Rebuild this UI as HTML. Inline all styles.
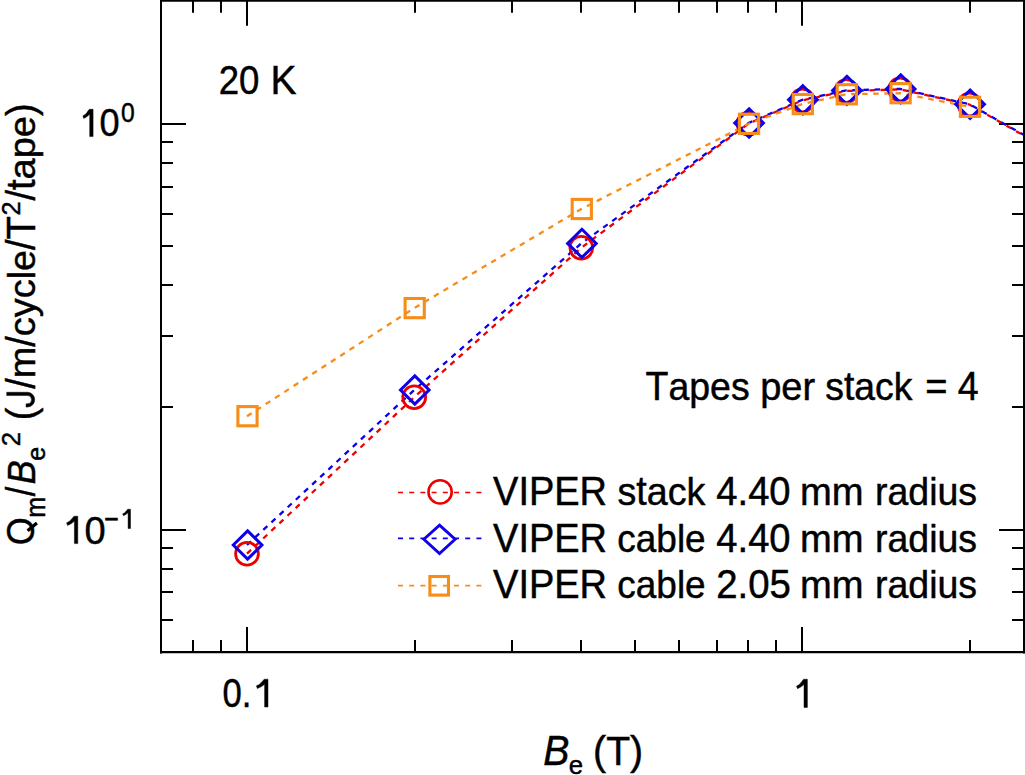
<!DOCTYPE html>
<html><head><meta charset="utf-8"><style>
html,body{margin:0;padding:0;background:#fff;}
body{width:1025px;height:775px;overflow:hidden;}
svg{display:block;}
text{font-family:"Liberation Sans",sans-serif;fill:#000;font-kerning:none;stroke:#000;stroke-width:0.45px;}
</style></head><body>
<svg width="1025" height="775" viewBox="0 0 1025 775">
<rect x="0" y="0" width="1025" height="775" fill="#fff"/>
<defs><clipPath id="pc"><rect x="162" y="1.5" width="861" height="649.5"/></clipPath></defs>
<g stroke="#000" fill="none">
<line x1="161" y1="652" x2="161" y2="640" stroke-width="2"/>
<line x1="161" y1="0" x2="161" y2="12.8" stroke-width="2"/>
<line x1="193" y1="652" x2="193" y2="640" stroke-width="2"/>
<line x1="193" y1="0" x2="193" y2="12.8" stroke-width="2"/>
<line x1="221" y1="652" x2="221" y2="640" stroke-width="2"/>
<line x1="221" y1="0" x2="221" y2="12.8" stroke-width="2"/>
<line x1="247" y1="652" x2="247" y2="627" stroke-width="2"/>
<line x1="247" y1="0" x2="247" y2="25.8" stroke-width="2"/>
<line x1="415" y1="652" x2="415" y2="640" stroke-width="2"/>
<line x1="415" y1="0" x2="415" y2="12.8" stroke-width="2"/>
<line x1="512" y1="652" x2="512" y2="640" stroke-width="2"/>
<line x1="512" y1="0" x2="512" y2="12.8" stroke-width="2"/>
<line x1="581" y1="652" x2="581" y2="640" stroke-width="2"/>
<line x1="581" y1="0" x2="581" y2="12.8" stroke-width="2"/>
<line x1="635" y1="652" x2="635" y2="640" stroke-width="2"/>
<line x1="635" y1="0" x2="635" y2="12.8" stroke-width="2"/>
<line x1="679" y1="652" x2="679" y2="640" stroke-width="2"/>
<line x1="679" y1="0" x2="679" y2="12.8" stroke-width="2"/>
<line x1="717" y1="652" x2="717" y2="640" stroke-width="2"/>
<line x1="717" y1="0" x2="717" y2="12.8" stroke-width="2"/>
<line x1="748" y1="652" x2="748" y2="640" stroke-width="2"/>
<line x1="748" y1="0" x2="748" y2="12.8" stroke-width="2"/>
<line x1="776" y1="652" x2="776" y2="640" stroke-width="2"/>
<line x1="776" y1="0" x2="776" y2="12.8" stroke-width="2"/>
<line x1="802" y1="652" x2="802" y2="627" stroke-width="2"/>
<line x1="802" y1="0" x2="802" y2="25.8" stroke-width="2"/>
<line x1="970" y1="652" x2="970" y2="640" stroke-width="2"/>
<line x1="970" y1="0" x2="970" y2="12.8" stroke-width="2"/>
<line x1="161" y1="620" x2="173" y2="620" stroke-width="2"/>
<line x1="1024" y1="620" x2="1012" y2="620" stroke-width="2"/>
<line x1="161" y1="592" x2="173" y2="592" stroke-width="2"/>
<line x1="1024" y1="592" x2="1012" y2="592" stroke-width="2"/>
<line x1="161" y1="569" x2="173" y2="569" stroke-width="2"/>
<line x1="1024" y1="569" x2="1012" y2="569" stroke-width="2"/>
<line x1="161" y1="548" x2="173" y2="548" stroke-width="2"/>
<line x1="1024" y1="548" x2="1012" y2="548" stroke-width="2"/>
<line x1="161" y1="530" x2="186" y2="530" stroke-width="2"/>
<line x1="1024" y1="530" x2="999" y2="530" stroke-width="2"/>
<line x1="161" y1="407" x2="173" y2="407" stroke-width="2"/>
<line x1="1024" y1="407" x2="1012" y2="407" stroke-width="2"/>
<line x1="161" y1="336" x2="173" y2="336" stroke-width="2"/>
<line x1="1024" y1="336" x2="1012" y2="336" stroke-width="2"/>
<line x1="161" y1="285" x2="173" y2="285" stroke-width="2"/>
<line x1="1024" y1="285" x2="1012" y2="285" stroke-width="2"/>
<line x1="161" y1="246" x2="173" y2="246" stroke-width="2"/>
<line x1="1024" y1="246" x2="1012" y2="246" stroke-width="2"/>
<line x1="161" y1="214" x2="173" y2="214" stroke-width="2"/>
<line x1="1024" y1="214" x2="1012" y2="214" stroke-width="2"/>
<line x1="161" y1="187" x2="173" y2="187" stroke-width="2"/>
<line x1="1024" y1="187" x2="1012" y2="187" stroke-width="2"/>
<line x1="161" y1="163" x2="173" y2="163" stroke-width="2"/>
<line x1="1024" y1="163" x2="1012" y2="163" stroke-width="2"/>
<line x1="161" y1="142" x2="173" y2="142" stroke-width="2"/>
<line x1="1024" y1="142" x2="1012" y2="142" stroke-width="2"/>
<line x1="161" y1="124" x2="186" y2="124" stroke-width="2"/>
<line x1="1024" y1="124" x2="999" y2="124" stroke-width="2"/>
</g>
<g clip-path="url(#pc)">
<polyline points="247.0,553.7 414.2,397.2 581.3,247.7 748.5,123.6 802.3,100.4 846.3,91.0 900.1,89.4 969.5,104.6 1067.2,160.3" fill="none" stroke="#EE0000" stroke-width="2.3" stroke-dasharray="5.5 5.6" stroke-linecap="butt"/>
<polyline points="247.0,545.0 414.2,390.0 581.3,243.4 748.5,123.0 802.3,99.8 846.3,90.4 900.1,88.9 969.5,104.2 1067.2,159.5" fill="none" stroke="#1000E8" stroke-width="2.3" stroke-dasharray="5.5 5.6" stroke-linecap="butt"/>
<polyline points="247.0,416.2 414.2,308.1 581.3,209.0 748.5,123.8 802.3,104.1 846.3,94.3 900.1,93.2 969.5,106.8" fill="none" stroke="#F78D19" stroke-width="2.3" stroke-dasharray="5.5 5.6" stroke-linecap="butt"/>
<circle cx="247.0" cy="553.7" r="11.4" fill="none" stroke="#EE0000" stroke-width="2.8"/>
<circle cx="414.2" cy="397.2" r="11.4" fill="none" stroke="#EE0000" stroke-width="2.8"/>
<circle cx="581.3" cy="247.7" r="11.4" fill="none" stroke="#EE0000" stroke-width="2.8"/>
<circle cx="748.5" cy="123.6" r="11.4" fill="none" stroke="#EE0000" stroke-width="2.8"/>
<circle cx="802.3" cy="100.4" r="11.4" fill="none" stroke="#EE0000" stroke-width="2.8"/>
<circle cx="846.3" cy="91.0" r="11.4" fill="none" stroke="#EE0000" stroke-width="2.8"/>
<circle cx="900.1" cy="89.4" r="11.4" fill="none" stroke="#EE0000" stroke-width="2.8"/>
<circle cx="969.5" cy="104.6" r="11.4" fill="none" stroke="#EE0000" stroke-width="2.8"/>
<path d="M247.6 530.9L261.9 545.0L247.6 559.1L233.3 545.0Z" fill="none" stroke="#1000E8" stroke-width="3.0" stroke-linejoin="miter"/>
<path d="M414.8 375.9L429.1 390.0L414.8 404.1L400.5 390.0Z" fill="none" stroke="#1000E8" stroke-width="3.0" stroke-linejoin="miter"/>
<path d="M581.9 229.3L596.2 243.4L581.9 257.5L567.6 243.4Z" fill="none" stroke="#1000E8" stroke-width="3.0" stroke-linejoin="miter"/>
<path d="M749.1 108.9L763.4 123.0L749.1 137.1L734.8 123.0Z" fill="none" stroke="#1000E8" stroke-width="3.0" stroke-linejoin="miter"/>
<path d="M802.9 85.7L817.2 99.8L802.9 113.9L788.6 99.8Z" fill="none" stroke="#1000E8" stroke-width="3.0" stroke-linejoin="miter"/>
<path d="M846.9 76.3L861.2 90.4L846.9 104.5L832.6 90.4Z" fill="none" stroke="#1000E8" stroke-width="3.0" stroke-linejoin="miter"/>
<path d="M900.7 74.8L915.0 88.9L900.7 103.0L886.4 88.9Z" fill="none" stroke="#1000E8" stroke-width="3.0" stroke-linejoin="miter"/>
<path d="M970.1 90.1L984.4 104.2L970.1 118.3L955.8 104.2Z" fill="none" stroke="#1000E8" stroke-width="3.0" stroke-linejoin="miter"/>
<rect x="237.9" y="406.6" width="19.2" height="19.2" fill="none" stroke="#F78D19" stroke-width="3.1"/>
<rect x="405.1" y="298.5" width="19.2" height="19.2" fill="none" stroke="#F78D19" stroke-width="3.1"/>
<rect x="572.2" y="199.4" width="19.2" height="19.2" fill="none" stroke="#F78D19" stroke-width="3.1"/>
<rect x="739.4" y="114.2" width="19.2" height="19.2" fill="none" stroke="#F78D19" stroke-width="3.1"/>
<rect x="793.2" y="94.5" width="19.2" height="19.2" fill="none" stroke="#F78D19" stroke-width="3.1"/>
<rect x="837.2" y="84.7" width="19.2" height="19.2" fill="none" stroke="#F78D19" stroke-width="3.1"/>
<rect x="891.0" y="83.6" width="19.2" height="19.2" fill="none" stroke="#F78D19" stroke-width="3.1"/>
<rect x="960.4" y="97.2" width="19.2" height="19.2" fill="none" stroke="#F78D19" stroke-width="3.1"/>
</g>
<g stroke="#000" fill="none">
<line x1="161" y1="0" x2="161" y2="653.5" stroke-width="2"/>
<line x1="1024" y1="0" x2="1024" y2="653.5" stroke-width="2"/>
<line x1="160" y1="0.9" x2="1025" y2="0.9" stroke-width="1.8"/>
<line x1="160" y1="652.2" x2="1025" y2="652.2" stroke-width="2.2"/>
</g>
<line x1="398" y1="492.5" x2="483" y2="492.5" stroke="#EE0000" stroke-width="1.7" stroke-dasharray="5 6.2"/>
<circle cx="440.1" cy="491.9" r="11.6" fill="none" stroke="#EE0000" stroke-width="2.6"/>
<line x1="398" y1="538.4" x2="483" y2="538.4" stroke="#1000E8" stroke-width="1.7" stroke-dasharray="5 6.2"/>
<path d="M439.5 525.1L455.1 539.3L439.5 553.5L423.9 539.3Z" fill="none" stroke="#1000E8" stroke-width="2.9" stroke-linejoin="miter"/>
<line x1="398" y1="585.7" x2="483" y2="585.7" stroke="#F78D19" stroke-width="1.7" stroke-dasharray="5 6.2"/>
<rect x="429.9" y="576.5" width="18.6" height="18.6" fill="none" stroke="#F78D19" stroke-width="3.1"/>
<text transform="matrix(1.0133 0 0 1.0930 493.03 504.90)" font-size="37.5">V</text>
<text transform="matrix(1.0133 0 0 1.0930 518.38 504.90)" font-size="37.5">I</text>
<text transform="matrix(1.0133 0 0 1.0930 528.93 504.90)" font-size="37.5">P</text>
<text transform="matrix(1.0133 0 0 1.0930 554.28 504.90)" font-size="37.5">E</text>
<text transform="matrix(1.0133 0 0 1.0930 579.62 504.90)" font-size="37.5">R</text>
<text transform="matrix(1.0042 0 0 1.0311 617.45 504.90)" font-size="37.5">s</text>
<text transform="matrix(1.0042 0 0 1.0930 636.28 504.90)" font-size="37.5">t</text>
<text transform="matrix(1.0042 0 0 1.0311 646.74 504.90)" font-size="37.5">a</text>
<text transform="matrix(1.0042 0 0 1.0311 667.69 504.90)" font-size="37.5">c</text>
<text transform="matrix(1.0042 0 0 1.0378 686.52 504.90)" font-size="37.5">k</text>
<text transform="matrix(1.0175 0 0 1.0930 716.32 504.90)" font-size="37.5">4</text>
<text transform="matrix(1.0175 0 0 1.0930 737.55 504.90)" font-size="37.5">.</text>
<text transform="matrix(1.0175 0 0 1.0930 748.15 504.90)" font-size="37.5">4</text>
<text transform="matrix(1.0175 0 0 1.0930 769.37 504.90)" font-size="37.5">0</text>
<text transform="matrix(1.0172 0 0 1.0311 799.97 504.90)" font-size="37.5">m</text>
<text transform="matrix(1.0172 0 0 1.0311 831.74 504.90)" font-size="37.5">m</text>
<text transform="matrix(0.9991 0 0 1.0311 875.01 504.90)" font-size="37.5">r</text>
<text transform="matrix(0.9991 0 0 1.0311 887.49 504.90)" font-size="37.5">a</text>
<text transform="matrix(0.9991 0 0 1.0378 908.32 504.90)" font-size="37.5">d</text>
<text transform="matrix(0.9991 0 0 1.0378 929.16 504.90)" font-size="37.5">i</text>
<text transform="matrix(0.9991 0 0 1.0311 937.48 504.90)" font-size="37.5">u</text>
<text transform="matrix(0.9991 0 0 1.0311 958.32 504.90)" font-size="37.5">s</text>
<text transform="matrix(1.0133 0 0 1.0853 493.03 552.10)" font-size="37.5">V</text>
<text transform="matrix(1.0133 0 0 1.0853 518.38 552.10)" font-size="37.5">I</text>
<text transform="matrix(1.0133 0 0 1.0853 528.93 552.10)" font-size="37.5">P</text>
<text transform="matrix(1.0133 0 0 1.0853 554.28 552.10)" font-size="37.5">E</text>
<text transform="matrix(1.0133 0 0 1.0853 579.62 552.10)" font-size="37.5">R</text>
<text transform="matrix(0.9851 0 0 1.0238 617.33 552.10)" font-size="37.5">c</text>
<text transform="matrix(0.9851 0 0 1.0238 635.80 552.10)" font-size="37.5">a</text>
<text transform="matrix(0.9851 0 0 1.0304 656.35 552.10)" font-size="37.5">b</text>
<text transform="matrix(0.9851 0 0 1.0304 676.89 552.10)" font-size="37.5">l</text>
<text transform="matrix(0.9851 0 0 1.0238 685.10 552.10)" font-size="37.5">e</text>
<text transform="matrix(1.0175 0 0 1.0853 716.32 552.10)" font-size="37.5">4</text>
<text transform="matrix(1.0175 0 0 1.0853 737.55 552.10)" font-size="37.5">.</text>
<text transform="matrix(1.0175 0 0 1.0853 748.15 552.10)" font-size="37.5">4</text>
<text transform="matrix(1.0175 0 0 1.0853 769.37 552.10)" font-size="37.5">0</text>
<text transform="matrix(1.0172 0 0 1.0238 799.97 552.10)" font-size="37.5">m</text>
<text transform="matrix(1.0172 0 0 1.0238 831.74 552.10)" font-size="37.5">m</text>
<text transform="matrix(0.9991 0 0 1.0238 875.01 552.10)" font-size="37.5">r</text>
<text transform="matrix(0.9991 0 0 1.0238 887.49 552.10)" font-size="37.5">a</text>
<text transform="matrix(0.9991 0 0 1.0304 908.32 552.10)" font-size="37.5">d</text>
<text transform="matrix(0.9991 0 0 1.0304 929.16 552.10)" font-size="37.5">i</text>
<text transform="matrix(0.9991 0 0 1.0238 937.48 552.10)" font-size="37.5">u</text>
<text transform="matrix(0.9991 0 0 1.0238 958.32 552.10)" font-size="37.5">s</text>
<text transform="matrix(1.0133 0 0 1.1008 493.03 598.20)" font-size="37.5">V</text>
<text transform="matrix(1.0133 0 0 1.1008 518.38 598.20)" font-size="37.5">I</text>
<text transform="matrix(1.0133 0 0 1.1008 528.93 598.20)" font-size="37.5">P</text>
<text transform="matrix(1.0133 0 0 1.1008 554.28 598.20)" font-size="37.5">E</text>
<text transform="matrix(1.0133 0 0 1.1008 579.62 598.20)" font-size="37.5">R</text>
<text transform="matrix(0.9851 0 0 1.0384 617.33 598.20)" font-size="37.5">c</text>
<text transform="matrix(0.9851 0 0 1.0384 635.80 598.20)" font-size="37.5">a</text>
<text transform="matrix(0.9851 0 0 1.0452 656.35 598.20)" font-size="37.5">b</text>
<text transform="matrix(0.9851 0 0 1.0452 676.89 598.20)" font-size="37.5">l</text>
<text transform="matrix(0.9851 0 0 1.0384 685.10 598.20)" font-size="37.5">e</text>
<text transform="matrix(1.0227 0 0 1.1008 716.27 598.20)" font-size="37.5">2</text>
<text transform="matrix(1.0227 0 0 1.1008 737.60 598.20)" font-size="37.5">.</text>
<text transform="matrix(1.0227 0 0 1.1008 748.25 598.20)" font-size="37.5">0</text>
<text transform="matrix(1.0227 0 0 1.1008 769.58 598.20)" font-size="37.5">5</text>
<text transform="matrix(1.0172 0 0 1.0384 799.97 598.20)" font-size="37.5">m</text>
<text transform="matrix(1.0172 0 0 1.0384 831.74 598.20)" font-size="37.5">m</text>
<text transform="matrix(0.9991 0 0 1.0384 875.01 598.20)" font-size="37.5">r</text>
<text transform="matrix(0.9991 0 0 1.0384 887.49 598.20)" font-size="37.5">a</text>
<text transform="matrix(0.9991 0 0 1.0452 908.32 598.20)" font-size="37.5">d</text>
<text transform="matrix(0.9991 0 0 1.0452 929.16 598.20)" font-size="37.5">i</text>
<text transform="matrix(0.9991 0 0 1.0384 937.48 598.20)" font-size="37.5">u</text>
<text transform="matrix(0.9991 0 0 1.0384 958.32 598.20)" font-size="37.5">s</text>
<text transform="matrix(0.9988 0 0 1.0930 645.56 400.20)" font-size="37.5">T</text>
<text transform="matrix(0.9988 0 0 1.0311 668.44 400.20)" font-size="37.5">a</text>
<text transform="matrix(0.9988 0 0 1.0311 689.27 400.20)" font-size="37.5">p</text>
<text transform="matrix(0.9988 0 0 1.0311 710.10 400.20)" font-size="37.5">e</text>
<text transform="matrix(0.9988 0 0 1.0311 730.93 400.20)" font-size="37.5">s</text>
<text transform="matrix(1.0145 0 0 1.0311 760.15 400.20)" font-size="37.5">p</text>
<text transform="matrix(1.0145 0 0 1.0311 781.31 400.20)" font-size="37.5">e</text>
<text transform="matrix(1.0145 0 0 1.0311 802.46 400.20)" font-size="37.5">r</text>
<text transform="matrix(0.9961 0 0 1.0311 825.26 400.20)" font-size="37.5">s</text>
<text transform="matrix(0.9961 0 0 1.0930 843.94 400.20)" font-size="37.5">t</text>
<text transform="matrix(0.9961 0 0 1.0311 854.32 400.20)" font-size="37.5">a</text>
<text transform="matrix(0.9961 0 0 1.0311 875.09 400.20)" font-size="37.5">c</text>
<text transform="matrix(0.9961 0 0 1.0378 893.77 400.20)" font-size="37.5">k</text>
<text transform="matrix(1.0154 0 0 1.0930 925.14 400.20)" font-size="37.5">=</text>
<text transform="matrix(1.0002 0 0 1.0930 957.64 400.20)" font-size="37.5">4</text>
<text transform="matrix(0.9387 0 0 1.0398 218.76 94.10)" font-size="39">2</text>
<text transform="matrix(0.9387 0 0 1.0398 239.12 94.10)" font-size="39">0</text>
<text transform="matrix(1.0011 0 0 1.0398 270.40 94.10)" font-size="39">K</text>
<text transform="matrix(0.8892 0 0 1.0398 222.55 707.10)" font-size="39">0</text>
<text transform="matrix(0.8892 0 0 1.0398 241.83 707.10)" font-size="39">.</text>
<path d="M264.20 679.20 L268.00 679.20 L268.00 707.00 L264.60 707.00 L264.60 684.34 C261.70 686.71 259.30 687.82 257.33 688.51 L256.40 685.87 C260.46 684.48 261.70 681.70 264.20 679.20 Z" fill="#000" stroke="#000" stroke-width="0.45"/>
<path d="M803.60 679.20 L807.40 679.20 L807.40 707.40 L804.00 707.40 L804.00 684.42 C801.30 686.81 799.30 687.94 797.46 688.65 L796.60 685.97 C800.38 684.56 801.30 681.74 803.60 679.20 Z" fill="#000" stroke="#000" stroke-width="0.45"/>
<path d="M89.30 109.30 L93.10 109.30 L93.10 136.60 L89.70 136.60 L89.70 114.35 C87.15 116.67 85.45 117.76 83.72 118.45 L82.90 115.85 C86.47 114.49 87.15 111.76 89.30 109.30 Z" fill="#000" stroke="#000" stroke-width="0.45"/>
<text transform="matrix(0.9280 0 0 1.0032 99.59 136.42)" font-size="39">0</text>
<text transform="matrix(0.9494 0 0 1.0484 120.94 122.03)" font-size="26">0</text>
<path d="M74.00 516.20 L77.80 516.20 L77.80 543.60 L74.40 543.60 L74.40 521.27 C71.60 523.60 69.40 524.69 67.50 525.38 L66.60 522.78 C70.52 521.41 71.60 518.67 74.00 516.20 Z" fill="#000" stroke="#000" stroke-width="0.45"/>
<text transform="matrix(0.9762 0 0 1.0177 84.41 543.61)" font-size="39">0</text>
<text transform="matrix(0.9658 0 0 1.2409 104.26 530.48)" font-size="26">−</text>
<path d="M127.70 509.20 L130.50 509.20 L130.50 528.50 L128.10 528.50 L128.10 512.77 C126.15 514.41 124.65 515.18 123.32 515.67 L122.70 513.83 C125.43 512.87 126.15 510.94 127.70 509.20 Z" fill="#000" stroke="#000" stroke-width="0.45"/>
<text transform="matrix(1.0051 0 0 1.0734 543.19 764.70)" font-size="39" font-style="italic">B</text>
<text transform="matrix(0.9918 0 0 1.0180 568.80 774.44)" font-size="26">e</text>
<text transform="matrix(1.0053 0 0 1.0510 593.07 764.70)" font-size="39">(</text>
<text transform="matrix(1.0053 0 0 1.0510 606.13 764.70)" font-size="39">T</text>
<text transform="matrix(1.0053 0 0 1.0510 630.07 764.70)" font-size="39">)</text>
<text transform="matrix(0 -0.9484 1.0184 0 34.12 545.31)" font-size="38">O</text>
<line x1="27.6" y1="530.8" x2="36.9" y2="522.9" stroke="#000" stroke-width="3.3"/>
<text transform="matrix(0 -0.9661 1.0483 0 45.10 517.77)" font-size="26">m</text>
<text transform="matrix(0 -0.8904 1.0519 0 34.70 496.20)" font-size="38">/</text>
<text transform="matrix(0 -0.9441 1.0442 0 34.70 484.30)" font-size="38" font-style="italic">B</text>
<text transform="matrix(0 -0.9672 0.9829 0 44.85 460.87)" font-size="26">e</text>
<text transform="matrix(0 -0.9962 0.9970 0 19.90 446.30)" font-size="26">2</text>
<text transform="matrix(0 -0.9963 1.0519 0 34.70 420.25)" font-size="38">(</text>
<text transform="matrix(0 -0.9963 1.0519 0 34.70 388.71)" font-size="38">/</text>
<text transform="matrix(0 -0.9963 0.9923 0 34.70 378.19)" font-size="38">m</text>
<text transform="matrix(0 -0.9963 1.0519 0 34.70 346.65)" font-size="38">/</text>
<text transform="matrix(0 -0.9963 0.9923 0 34.70 336.13)" font-size="38">c</text>
<text transform="matrix(0 -0.9963 0.9923 0 34.70 317.20)" font-size="38">y</text>
<text transform="matrix(0 -0.9963 0.9923 0 34.70 298.27)" font-size="38">c</text>
<text transform="matrix(0 -0.9963 0.9987 0 34.70 279.34)" font-size="38">l</text>
<text transform="matrix(0 -0.9963 0.9923 0 34.70 270.93)" font-size="38">e</text>
<text transform="matrix(0 -0.9963 1.0519 0 34.70 249.88)" font-size="38">/</text>
<text transform="matrix(0 -0.9963 1.0519 0 34.70 239.36)" font-size="38">T</text>
<path d="M-395.55 6.70 L-392.25 6.70 L-392.25 27.57 A7.43 7.43 0 0 1 -407.10 27.57 L-407.10 26.07 L-403.80 26.07 L-403.80 27.57 A4.13 4.13 0 0 0 -395.55 27.57 Z" transform="matrix(0 -1 1 0 0 0)" fill="#000" stroke="#000" stroke-width="0.45"/>
<text transform="matrix(0 -0.9709 0.9970 0 19.90 215.57)" font-size="26">2</text>
<text transform="matrix(0 -1.0009 1.0519 0 34.70 200.60)" font-size="38">/</text>
<text transform="matrix(0 -1.0009 1.0519 0 34.70 190.03)" font-size="38">t</text>
<text transform="matrix(0 -1.0009 0.9923 0 34.70 179.47)" font-size="38">a</text>
<text transform="matrix(0 -1.0009 0.9923 0 34.70 158.31)" font-size="38">p</text>
<text transform="matrix(0 -1.0009 0.9923 0 34.70 137.16)" font-size="38">e</text>
<text transform="matrix(0 -1.0009 1.0519 0 34.70 116.01)" font-size="38">)</text>
</svg></body></html>
